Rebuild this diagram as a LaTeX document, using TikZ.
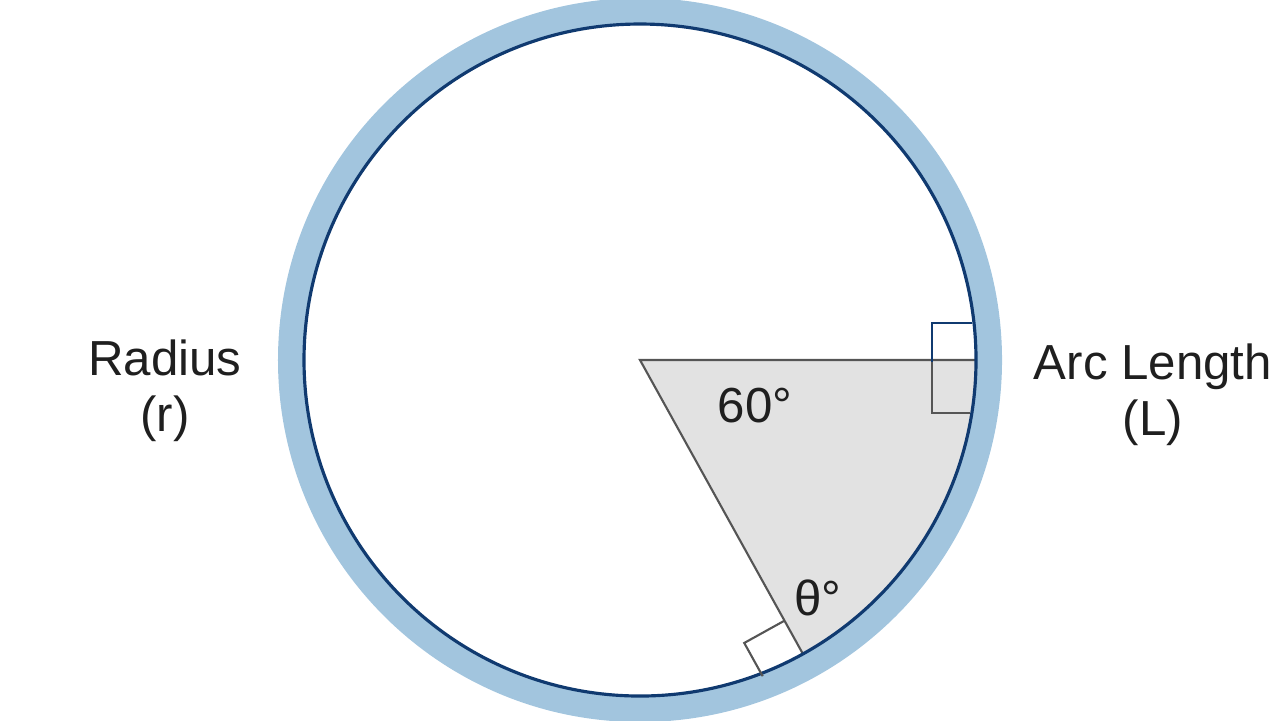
\documentclass[tikz,border=0pt]{standalone}
\usepackage{fontspec}
\setmainfont{Liberation Sans}
\usetikzlibrary{calc}

\definecolor{ringblue}{RGB}{162,197,222}
\definecolor{navy}{RGB}{16,58,112}
\definecolor{sectorgray}{RGB}{226,226,226}
\definecolor{edgegray}{RGB}{85,85,85}

\begin{document}
\begin{tikzpicture}[x=0.01cm,y=-0.01cm,
                    every node/.style={font=\fontsize{14}{16}\selectfont,
                                       text=black!88,inner sep=0pt}]
  \tikzstyle{edge}=[draw=edgegray,line width=0.6pt]
  \tikzstyle{label}=[align=center]

  \useasboundingbox (0,0) rectangle (1280,720);

  \coordinate (O) at (640,360);
  \coordinate (A) at ($(O)+(0:336)$);
  \coordinate (B) at ($(O)+(61:336)$);

  % sector
  \fill[sectorgray] (O) -- (A) arc[start angle=0,end angle=61,radius=336] -- cycle;
  \draw[edge] (A) -- (O) -- (B);

  % circle
  \draw[ringblue,line width=7.4pt] (O) circle[radius=349];
  \draw[navy,line width=0.9pt] (O) circle[radius=336];

  % right angle marks
  \draw[navy,line width=0.6pt] (932,362) -- (932,323) -- (972,323);
  \draw[edge] (932,362) -- (932,413) -- (970,413);
  \draw[edge] ($(B)+(241:38)$) -- ($(B)+(241:38)+(151:46)$) -- ($(B)+(151:46)$);

  % labels
  \node (ang)   at (755,406) {60°};
  \node (theta) at (818,598) {θ°};
  \node[label] (rad) at (165,391) {Radius\\(r)};
  \node[label] (arc) at (1153,395) {Arc Length\\(L)};

\end{tikzpicture}
\end{document}
